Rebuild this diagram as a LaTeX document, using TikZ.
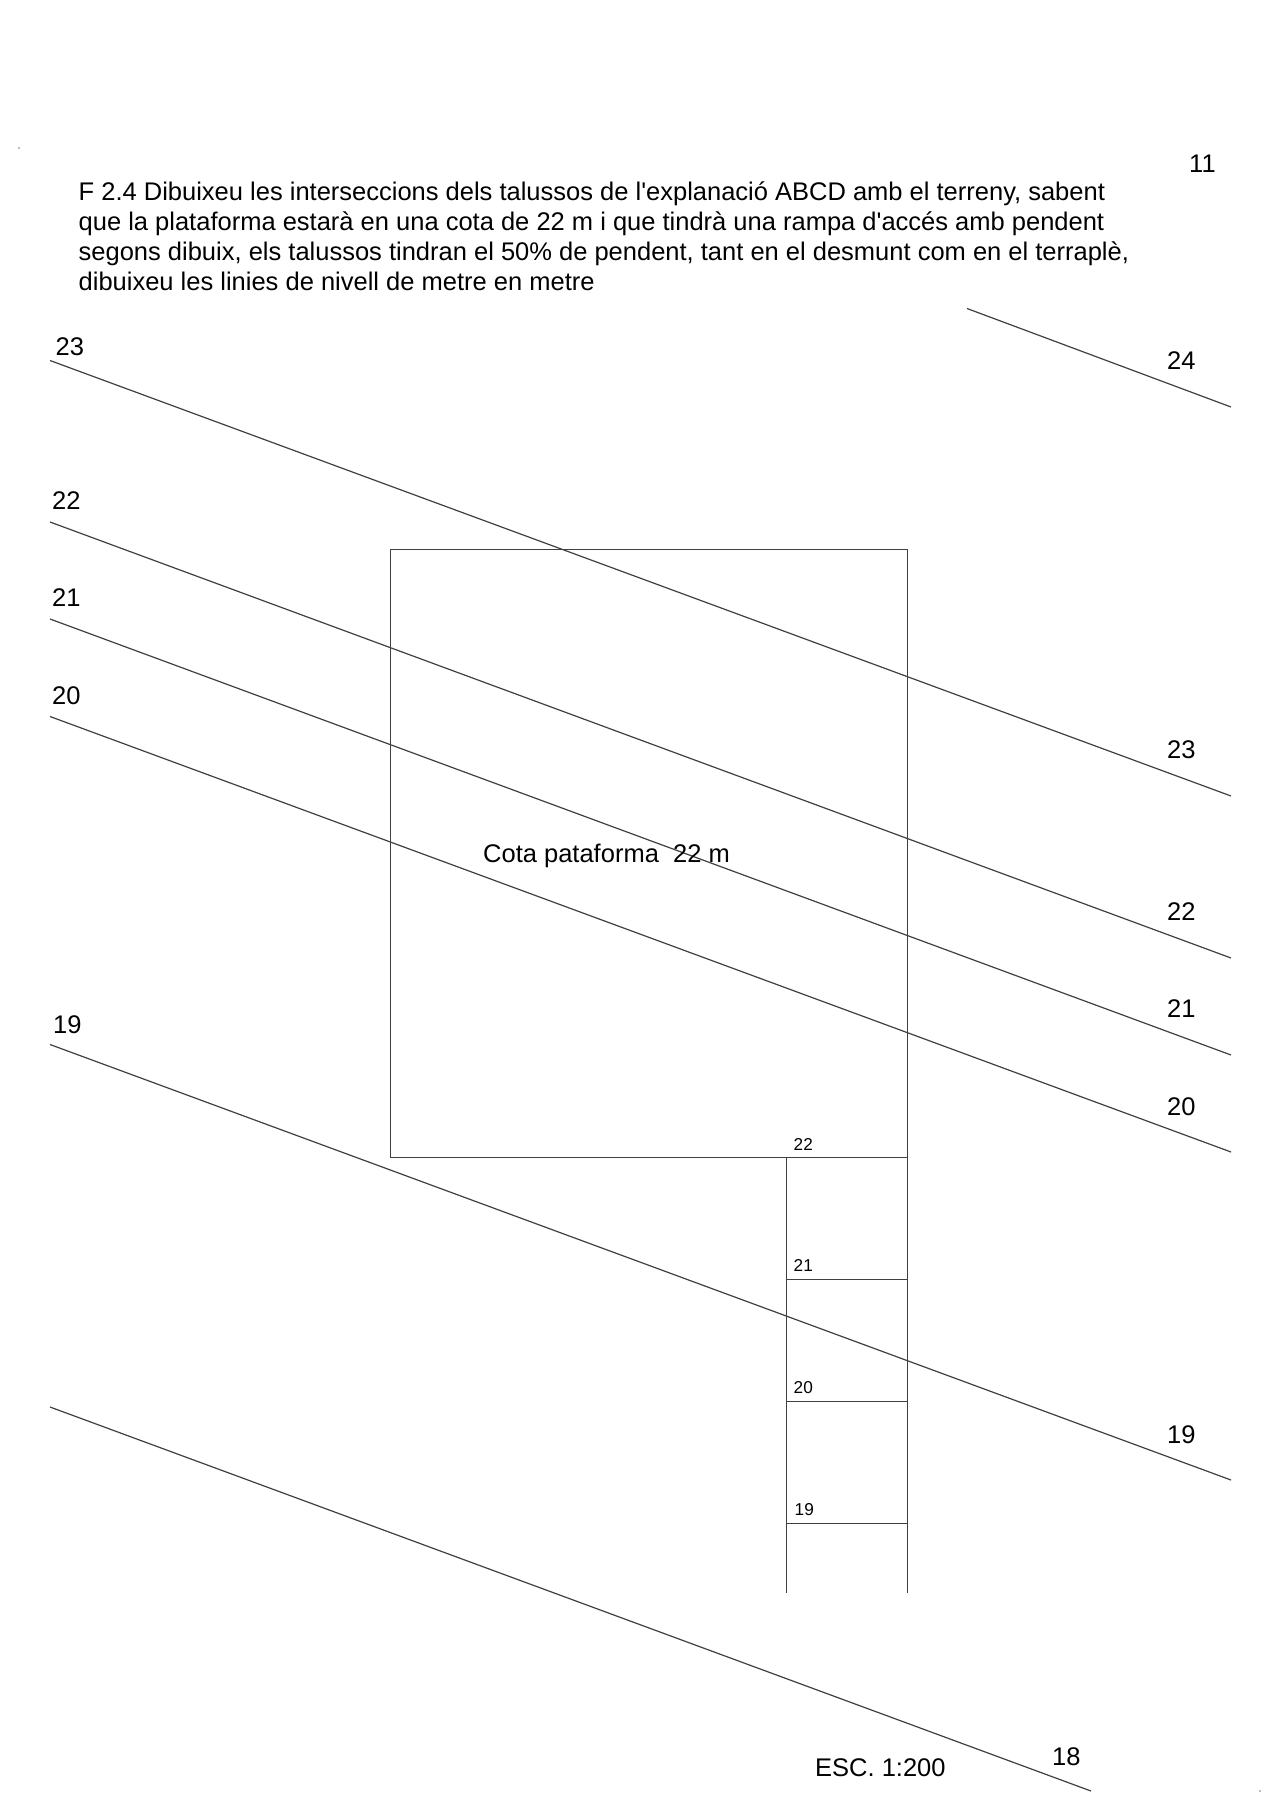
\documentclass[tikz,border=0pt]{standalone}
\usepackage{fontspec}
\setmainfont{Liberation Sans}
\newfontfamily\plainsans{Liberation Sans}
\tikzset{
  lin/.style={draw=black!75, line width=1.2pt},
  lab/.style={inner sep=0pt, anchor=base west, font=\plainsans\fontsize{25.5}{30}\selectfont},
  small/.style={inner sep=0pt, anchor=base west, font=\plainsans\fontsize{17.2}{20}\selectfont},
  speck/.style={fill=black!50, draw=none},
}
\begin{document}
\begin{tikzpicture}[x=1pt,y=-1pt]
\useasboundingbox (0,0) rectangle (1280,1811);
\fill[white] (0,0) rectangle (1280,1811);
% contour lines
\coordinate (a24) at (967,308.5); \coordinate (b24) at (1231,407);
\coordinate (a23) at (50,360.5); \coordinate (b23) at (1231,796);
\coordinate (a22) at (50,522); \coordinate (b22) at (1231,958);
\coordinate (a21) at (50,619); \coordinate (b21) at (1231,1055);
\coordinate (a20) at (50,716.5); \coordinate (b20) at (1231,1152);
\coordinate (a19) at (50,1044.5); \coordinate (b19) at (1231,1480);
\coordinate (a18) at (50,1407); \coordinate (b18) at (1091,1791);
\foreach \k in {24,23,22,21,20,19,18} \draw[lin] (a\k) -- (b\k);
% platform
\coordinate (pA) at (390.5,549.5); \coordinate (pB) at (907.5,549.5);
\coordinate (pC) at (907.5,1157.5); \coordinate (pD) at (390.5,1157.5);
\draw[lin] (pA) -- (pB) -- (pC) -- (pD) -- cycle;
% ramp
\coordinate (rL0) at (786.5,1157.5); \coordinate (rLe) at (786.5,1593); \coordinate (rRe) at (907.5,1593);
\draw[lin] (rL0) -- (rLe);
\draw[lin] (pC) -- (rRe);
\coordinate (l21) at (786.5,1279.5); \coordinate (r21) at (907.5,1279.5);
\coordinate (l20) at (786.5,1401.5); \coordinate (r20) at (907.5,1401.5);
\coordinate (l19) at (786.5,1523.5); \coordinate (r19) at (907.5,1523.5);
\draw[lin] (l21) -- (r21);
\draw[lin] (l20) -- (r20);
\draw[lin] (l19) -- (r19);
% specks
\fill[speck] (19,148) circle (0.8);
\fill[speck] (1260,1791) circle (0.8);
% texts
\node[lab] (t1) at (78.5,201) {F 2.4 Dibuixeu les interseccions dels talussos de l'explanació ABCD amb el terreny, sabent};
\node[lab] (t2) at (78.5,231) {que la plataforma estarà en una cota de 22 m i que tindrà una rampa d'accés amb pendent};
\node[lab] (t3) at (78.5,261) {segons dibuix, els talussos tindran el 50\% de pendent, tant en el desmunt com en el terraplè,};
\node[lab] (t4) at (78.5,290.5) {dibuixeu les linies de nivell de metre en metre};
\node[lab] (n11) at (1189,173) {11};
\node[lab] (n24) at (1167,369) {24};
\node[lab] (n23a) at (55.5,355) {23};
\node[lab] (n23b) at (1167,758) {23};
\node[lab] (n22a) at (52,509) {22};
\node[lab] (n22b) at (1167,920) {22};
\node[lab] (n21a) at (52,606) {21};
\node[lab] (n21b) at (1167,1017) {21};
\node[lab] (n20a) at (52,704) {20};
\node[lab] (n20b) at (1167,1115) {20};
\node[lab] (n19a) at (53,1033) {19};
\node[lab] (n19b) at (1167,1443) {19};
\node[lab] (n18) at (1052,1765) {18};
\node[lab] (esc) at (815,1776) {ESC. 1:200};
\node[lab] (cota) at (483,862) {Cota pataforma\ \ 22 m};
\node[small] (s22) at (793.5,1150) {22};
\node[small] (s21) at (793.5,1271.5) {21};
\node[small] (s20) at (793.5,1393) {20};
\node[small] (s19) at (794.5,1515) {19};
\end{tikzpicture}
\end{document}
